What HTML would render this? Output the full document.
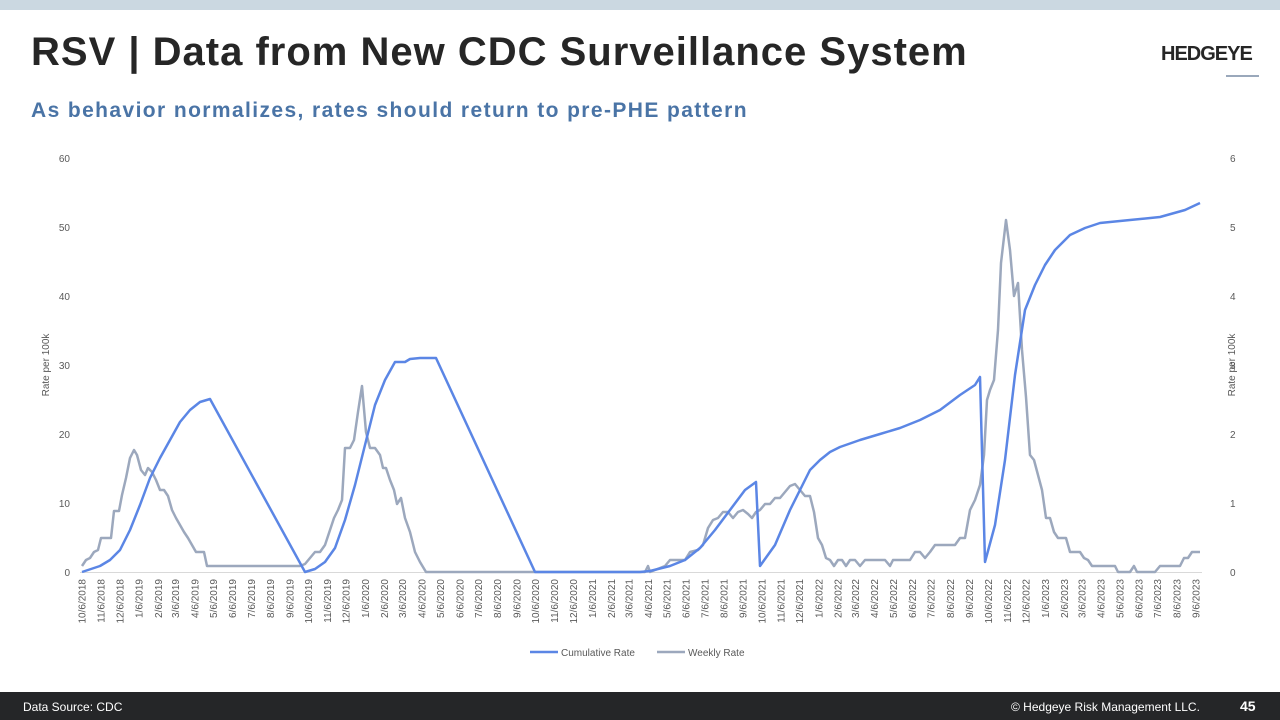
<!DOCTYPE html><html><head><meta charset="utf-8"><style>
body{margin:0;width:1280px;height:720px;overflow:hidden;background:#fff;font-family:"Liberation Sans",sans-serif;position:relative}
.top{position:absolute;left:0;top:0;width:1280px;height:10px;background:#cbd8e1}
h1{position:absolute;left:31px;top:30px;margin:0;font-size:40px;font-weight:bold;color:#262626;letter-spacing:1px}
h2{position:absolute;left:31px;top:99px;margin:0;font-size:21px;font-weight:bold;color:#4a74a6;letter-spacing:1.4px}
.logo{position:absolute;left:1161px;top:43px;font-size:20px;font-weight:bold;color:#262626;letter-spacing:-1px}
.logoline{position:absolute;left:1226px;top:75px;width:33px;height:2px;background:#9aa8bb}
.foot{position:absolute;left:0;top:692px;width:1280px;height:28px;background:#252628;color:#fff;font-size:12px}
</style></head><body>
<div class="top"></div>
<h1>RSV | Data from New CDC Surveillance System</h1>
<div class="logo">HEDGEYE</div><div class="logoline"></div>
<h2>As behavior normalizes, rates should return to pre-PHE pattern</h2>
<svg id="c" width="1280" height="692" style="position:absolute;left:0;top:0" font-family="Liberation Sans, sans-serif"></svg>
<div class="foot"><span style="position:absolute;left:23px;top:8px">Data Source: CDC</span><span style="position:absolute;left:1011px;top:8px">© Hedgeye Risk Management LLC.</span><span style="position:absolute;left:1240px;top:6px;font-weight:bold;font-size:14px">45</span></div>
<script>
var s='';
s+='<line x1="80" y1="572.5" x2="1202" y2="572.5" stroke="#d9d9d9"/>';
for(var i=0;i<=6;i++){var y=572-i*69;
s+='<text x="70" y="'+(y+4)+'" font-size="10" fill="#595959" text-anchor="end">'+(i*10)+'</text>';
s+='<text x="1230" y="'+(y+4)+'" font-size="10" fill="#595959">'+i+'</text>';}
s+='<text transform="translate(49,365) rotate(-90)" font-size="10" fill="#595959" text-anchor="middle">Rate per 100k</text>';
s+='<text transform="translate(1235,365) rotate(-90)" font-size="10" fill="#595959" text-anchor="middle">Rate per 100k</text>';
var t0=Date.UTC(2018,9,6);
for(var k=0;k<60;k++){var m=9+k,yr=2018+Math.floor(m/12),mo=m%12;var d=(Date.UTC(yr,mo,6)-t0)/864e5;var x=82+d*0.6203;
s+='<text transform="translate('+(x+3.5).toFixed(1)+',579) rotate(-90)" font-size="10" fill="#595959" text-anchor="end">'+(mo+1)+'/6/'+yr+'</text>';}
var blue=[[82,572],[100,566],[110,560],[120,550],[130,530],[140,505],[150,478],[160,458],[170,440],[180,422],[190,410],[200,402],[210,399],[305,572],[315,569],[325,562],[335,548],[345,520],[355,485],[365,445],[375,405],[385,380],[395,362],[405,362],[410,359],[420,358],[436,358],[535,572],[640,572],[650,571],[670,566],[685,560],[700,548],[715,530],[730,510],[745,490],[756,482],[760,566],[775,545],[790,510],[800,490],[810,470],[820,460],[830,452],[840,447],[860,440],[880,434],[900,428],[920,420],[940,410],[960,395],[975,385],[980,377],[985,562],[995,525],[1005,460],[1015,375],[1025,310],[1035,285],[1045,265],[1055,250],[1070,235],[1085,228],[1100,223],[1130,220],[1160,217],[1185,210],[1200,203]];
var gray=[[82,566],[86,560],[90,558],[94,552],[98,550],[101,538],[111,538],[114,511],[119,511],[122,495],[126,478],[130,458],[134,450],[137,455],[141,470],[145,475],[148,468],[152,472],[156,480],[160,490],[164,490],[168,496],[172,510],[176,518],[180,525],[184,532],[188,538],[192,545],[196,552],[204,552],[207,566],[300,566],[305,564],[310,558],[315,552],[320,552],[325,545],[330,530],[334,518],[338,510],[342,500],[345,448],[350,448],[354,440],[358,412],[362,386],[366,432],[370,448],[375,448],[380,455],[383,468],[386,468],[390,480],[394,490],[397,504],[401,498],[405,518],[410,532],[415,552],[420,562],[426,572],[645,572],[648,566],[650,572],[660,568],[665,566],[670,560],[685,560],[690,552],[698,550],[703,545],[708,528],[713,520],[718,518],[723,512],[728,512],[733,518],[738,512],[743,510],[748,514],[752,518],[756,512],[760,510],[765,504],[770,504],[775,498],[780,498],[785,492],[790,486],[795,484],[800,490],[805,496],[810,496],[814,512],[818,538],[822,545],[826,558],[830,560],[834,566],[838,560],[842,560],[846,566],[850,560],[855,560],[860,566],[865,560],[885,560],[890,566],[893,560],[910,560],[915,552],[920,552],[925,558],[930,552],[935,545],[955,545],[960,538],[965,538],[970,510],[975,500],[980,485],[984,455],[987,400],[990,390],[994,380],[998,330],[1001,263],[1006,220],[1010,250],[1014,296],[1018,283],[1022,350],[1026,397],[1030,455],[1034,460],[1038,475],[1042,490],[1046,518],[1050,518],[1054,532],[1058,538],[1066,538],[1070,552],[1080,552],[1084,558],[1088,560],[1092,566],[1115,566],[1118,572],[1130,572],[1134,566],[1137,572],[1155,572],[1160,566],[1180,566],[1184,558],[1188,558],[1192,552],[1200,552]];
function pl(a,c){return '<polyline fill="none" stroke="'+c+'" stroke-width="2.5" stroke-linejoin="round" points="'+a.map(function(p){return p.join(',')}).join(' ')+'"/>';}
s+=pl(gray,'#9ca8bd')+pl(blue,'#5b86e5');
s+='<line x1="530" y1="652" x2="558" y2="652" stroke="#5b86e5" stroke-width="2.5"/><text x="561" y="656" font-size="10" fill="#595959">Cumulative Rate</text>';
s+='<line x1="657" y1="652" x2="685" y2="652" stroke="#9ca8bd" stroke-width="2.5"/><text x="688" y="656" font-size="10" fill="#595959">Weekly Rate</text>';
document.getElementById('c').innerHTML=s;
</script>
</body></html>
